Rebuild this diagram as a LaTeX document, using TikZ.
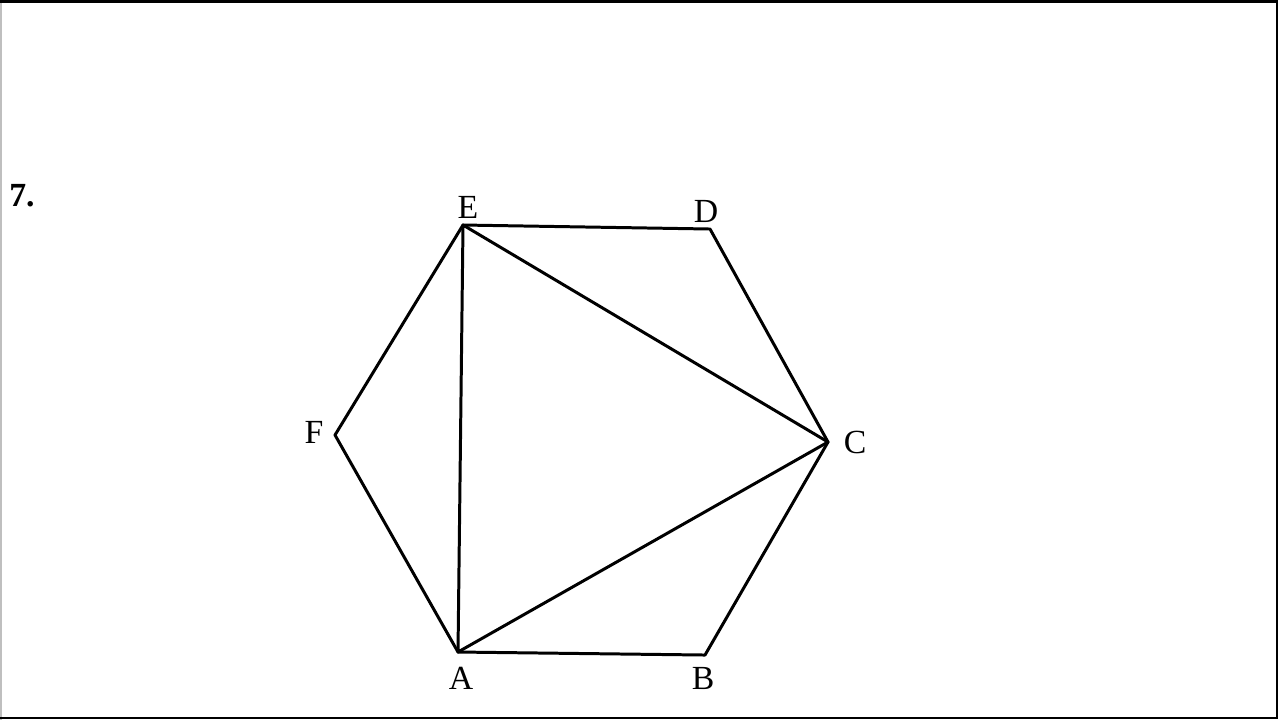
\documentclass[tikz,border=0pt]{standalone}
\usepackage{fontspec}
\setmainfont{Liberation Serif}
\usepackage{tikz}
\usetikzlibrary{positioning}
\tikzstyle{edge} = [draw, line width=0.85pt, line join=round]
\tikzstyle{vlabel} = [inner sep=0pt, font=\fontsize{9.6}{11}\selectfont]

\begin{document}
\begin{tikzpicture} [x=0.01cm, y=-0.01cm]
    % Frame
    \useasboundingbox (0,0) rectangle (1280,720);
    \draw [black!25, line width=0.4pt] (1,0) -- (1,720);
    \draw [line width=0.7pt] (0,1.5) -- (1277,1.5) -- (1277,718) -- (0,718);
    % Vertices
    \coordinate (A) at (458,652);
    \coordinate (B) at (705,655);
    \coordinate (C) at (828,442);
    \coordinate (D) at (710,229);
    \coordinate (E) at (463,225);
    \coordinate (F) at (335,435);
    % Labels
    \node [vlabel] (num) at (22,196) {\textbf{7.}};
    \node [vlabel] (lE) at (468,207) {E};
    \node [vlabel] (lD) at (706,211) {D};
    \node [vlabel] (lF) at (314,432) {F};
    \node [vlabel] (lC) at (855,442) {C};
    \node [vlabel] (lA) at (461,678) {A};
    \node [vlabel] (lB) at (703,678) {B};
    % Paths
    \path [edge] (A) -- (B) -- (C) -- (D) -- (E) -- (F) -- cycle;
    \path [edge] (A) -- (C) -- (E) -- cycle;
\end{tikzpicture}
\end{document}
